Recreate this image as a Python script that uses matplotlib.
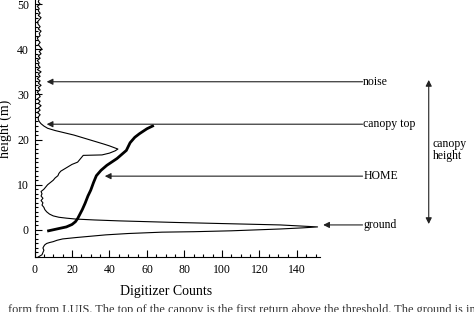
import matplotlib
matplotlib.use('Agg')
import matplotlib.pyplot as plt
from matplotlib.ticker import MultipleLocator

plt.rcParams['font.family'] = ['Liberation Serif', 'DejaVu Serif']

# waveform: height (m) vs digitizer counts
wave_height = [-6.0, -5.5, -5.0, -4.5, -4.0, -3.6, -3.3, -3.0, -2.8, -2.6, -2.3, -2.0,
               -1.7, -1.4, -1.1, -0.8, -0.5, -0.4, -0.2, 0.0, 0.2, 0.45, 0.66,
               0.9, 1.1, 1.3, 1.5, 1.65, 1.8, 2.0, 2.2, 2.4, 2.6, 2.8, 3.1, 3.5,
               4.0, 4.5, 5.0, 5.5, 6.0, 6.5, 7.0, 7.5, 8.0, 8.5, 9.0, 9.5, 10.0,
               10.5, 11.0, 11.5, 12.0, 12.5, 13.0, 13.5, 14.0, 14.5, 15.0, 15.5,
               16.0, 16.5, 16.6, 17.0, 17.5, 17.9, 18.3, 18.6, 19.0, 19.5, 20.0,
               20.5, 21.0, 21.5, 22.0, 22.5, 23.0, 23.5, 24.0, 24.5,
               25.0, 25.5, 26.0, 26.5, 27.0, 27.5, 28.0, 28.5, 29.0, 29.5, 30.0,
               30.5, 31.0, 31.5, 32.0, 32.5, 33.0, 33.5, 34.0, 34.5, 35.0, 35.5,
               36.0, 36.5, 37.0, 37.5, 38.0, 38.5, 39.0, 39.5, 40.0, 40.5, 41.0,
               41.5, 42.0, 42.5, 43.0, 43.5, 44.0, 44.5, 45.0, 45.5, 46.0, 46.5,
               47.0, 47.5, 48.0, 48.5, 49.0, 49.5, 50.0, 50.5, 51.0]
wave_counts = [2, 4, 4.5, 5, 4.5, 5, 5.5, 6.5, 8, 10, 12, 15,
               22, 30, 38, 50, 68, 85, 105, 118, 131, 143, 151,
               140, 131, 110, 90, 75, 62, 45, 32, 22, 17, 13, 10, 8,
               6.5, 5.5, 5, 4, 4.5, 3.5, 4.5, 3.5, 4, 3.5, 5, 6, 7,
               8.5, 10, 11, 12.5, 13, 14, 16, 18, 20, 23, 24,
               25, 26, 36, 40, 43, 44.5, 42, 40, 37, 33, 29,
               25, 21, 16, 11, 7, 5, 3.5, 2.5, 2,
               2, 3, 1.5, 3, 2, 3.5, 2, 3, 1.5, 3, 2.5,
               1.5, 3, 2, 3.5, 2, 3, 1.5, 3, 2, 3.5, 1.5,
               3, 2, 2.5, 1.5, 3, 2, 3.5, 2.5, 4, 3, 2,
               3, 2, 1.5, 3, 2.5, 3.5, 2, 3, 2, 1.5, 2.5,
               3.5, 2, 3, 2, 2.5, 1.5, 3, 2, 2.5]

# cumulative HOME curve
home_height = [-0.2, 0.3, 0.66, 1.2, 1.8, 2.5, 3.3, 4.5, 5.9, 7.5, 8.8, 10.5,
               12.0, 13.2, 14.3, 15.8, 17.6, 19.3, 20.5, 21.3, 22.4, 23.0]
home_counts = [7.5, 13, 17, 20, 21.8, 23, 24, 25.5, 27, 28.5, 30, 31.5,
               33, 35.5, 38.6, 44, 49, 51, 53.5, 56, 60, 63]

# annotations: label, height, arrow tip (counts)
labels = ['noise', 'canopy top', 'HOME', 'ground']
label_height = [32.8, 23.4, 11.9, 1.1]
arrow_tip = [6.5, 6.5, 37.5, 154]

fig = plt.figure(figsize=(4.74, 3.12), dpi=100)
ax = fig.add_axes([34.5 / 474, 55 / 312, 285.5 / 474, 257 / 312])

ax.plot(wave_counts, wave_height, color='black', lw=0.8)
ax.plot(home_counts, home_height, color='black', lw=2.0)

for lab, h, tip in zip(labels, label_height, arrow_tip):
    ax.annotate('', xy=(tip, h), xytext=(175, h), annotation_clip=False,
                arrowprops=dict(arrowstyle='-|>', lw=0.8, color='#222222',
                                shrinkA=0, shrinkB=0, mutation_scale=9))
    ax.text(175.3, h, lab, ha='left', va='center', fontsize=8.5, clip_on=False)

# canopy height double arrow
ax.annotate('', xy=(210.3, 33.2), xytext=(210.3, 1.3), annotation_clip=False,
            arrowprops=dict(arrowstyle='<|-|>', lw=0.8, color='#222222',
                            shrinkA=0, shrinkB=0, mutation_scale=9))
ax.text(212.5, 17.7, 'canopy\nheight', ha='left', va='center', fontsize=8.5,
        linespacing=1.1, clip_on=False)

ax.set_xlim(0, 152.3)
ax.set_ylim(-6, 50.9)
ax.spines['top'].set_visible(False)
ax.spines['right'].set_visible(False)
ax.xaxis.set_major_locator(MultipleLocator(20))
ax.xaxis.set_minor_locator(MultipleLocator(5))
ax.yaxis.set_major_locator(MultipleLocator(10))
ax.yaxis.set_minor_locator(MultipleLocator(1))
ax.set_yticks([0, 10, 20, 30, 40, 50])
ax.tick_params(which='both', direction='in', labelsize=8.5)
ax.tick_params(which='major', length=5, width=0.8)
ax.tick_params(which='minor', length=2.5, width=0.8)
ax.tick_params(axis='x', pad=5)
ax.tick_params(axis='y', pad=4)

ax.set_xlabel('Digitizer Counts', fontsize=10)
ax.xaxis.set_label_coords(0.46, -0.11)
ax.set_ylabel('height (m)', fontsize=10)
ax.yaxis.set_label_coords(-0.078, 0.5)

fig.text(0.017, 0.026, 'form from LUIS. The top of the canopy is the first return above the threshold. The ground is in the',
         ha='left', va='top', fontsize=8.8, color='#333333')

fig.savefig('out.png', dpi=100)
